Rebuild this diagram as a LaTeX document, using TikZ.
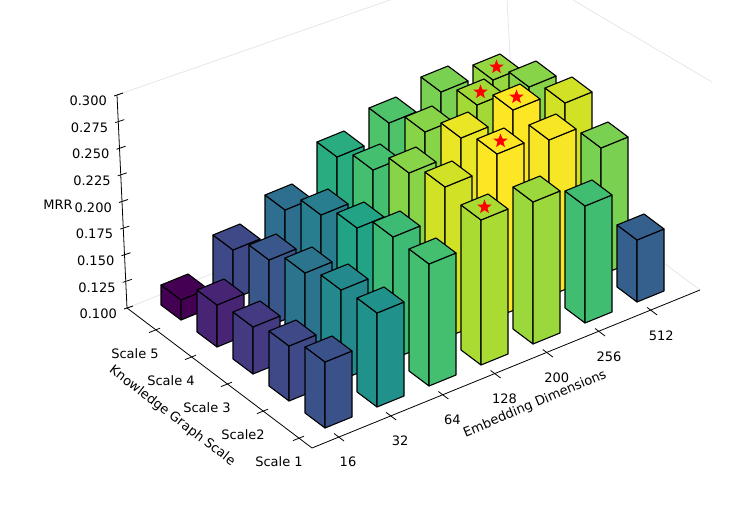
\documentclass[tikz,border=0pt]{standalone}
\usepackage{fontspec}
\setmainfont{DejaVu Sans}
\usetikzlibrary{shapes.geometric}
\definecolor{vir0}{HTML}{440154}
\definecolor{vir1}{HTML}{482475}
\definecolor{vir2}{HTML}{414487}
\definecolor{vir3}{HTML}{355F8D}
\definecolor{vir4}{HTML}{2A788E}
\definecolor{vir5}{HTML}{21918C}
\definecolor{vir6}{HTML}{22A884}
\definecolor{vir7}{HTML}{44BF70}
\definecolor{vir8}{HTML}{7AD151}
\definecolor{vir9}{HTML}{BDDF26}
\definecolor{vir10}{HTML}{FDE725}
\definecolor{vir11}{HTML}{FDE725}
\definecolor{pane}{HTML}{E6E6E6}
\tikzset{
  barface/.style={fill=barc, draw=black, line width=1.1pt, line join=round},
  panel/.style={draw=pane, line width=0.8pt},
  axisline/.style={draw=black, line width=0.8pt},
  tick/.style={draw=black, line width=0.8pt},
  lab/.style={font=\fontsize{13}{15}\selectfont, inner sep=0pt},
  beststar/.style={star, star points=5, star point ratio=2.4, fill=red, draw=none, minimum size=15pt, inner sep=0pt}
}
\begin{document}
\begin{tikzpicture}[x=1pt,y=-1pt]
\useasboundingbox (0,0) rectangle (741,518);
% faint panes
\draw[panel] (127,308) -- (515,152) -- (700,290);
\draw[panel] (515,152) -- (505,-40);
\draw[panel] (117,95) -- (505,-40) -- (712,82);
% axes
\draw[axisline] (127,308) -- (312,448) -- (700,290);
\draw[axisline] (127,308) -- (117,95);
% z ticks and labels
\foreach \k/\t in {0/0.100,1/0.125,2/0.150,3/0.175,4/0.200,5/0.225,6/0.250,7/0.275,8/0.300}{
  \pgfmathsetmacro\zx{127-10*\k/8}
  \pgfmathsetmacro\zy{308-213*\k/8}
  \draw[tick] (\zx-3,\zy+1) -- (\zx+6,\zy-2);
  \node[lab, anchor=east] (z\k) at (\zx-10,\zy+6) {\t};
}
\node[lab] (mrr) at (58,205) {MRR};
% scale ticks
\foreach \j/\t in {0/Scale 1,1/Scale2,2/Scale 3,3/Scale 4,4/Scale 5}{
  \pgfmathsetmacro\sx{297-36*\j}
  \pgfmathsetmacro\sy{439-27*\j}
  \draw[tick] (\sx-4,\sy+1.6) -- (\sx+7,\sy-2.8);
  \node[lab] (s\j) at (\sx-18,\sy+23) {\t};
}
\node[lab, rotate=-37.5] (kgs) at (172,416) {Knowledge Graph Scale};
% dim ticks
\foreach \i/\t in {0/16,1/32,2/64,3/128,4/200,5/256,6/512}{
  \pgfmathsetmacro\dx{340+52.2*\i}
  \pgfmathsetmacro\dy{438-21*\i}
  \draw[tick] (\dx+4,\dy+3) -- (\dx-6,\dy-4.5);
  \node[lab] (d\i) at (\dx+8,\dy+24) {\t};
}
\node[lab, rotate=22.9] (emb) at (535,404) {Embedding Dimensions};
% bars (back to front): i/j/height/star/colour position
\foreach \i/\j/\h/\s/\c in {
  6/4/114/1/0.84,
  6/3/134/0/0.82, 5/4/123/0/0.80,
  6/2/145/0/0.93, 5/3/137/1/0.86, 4/4/113/0/0.72,
  6/1/127/0/0.80, 5/2/159/1/1.0, 4/3/131/0/0.82, 3/4/100/0/0.62,
  6/0/62/0/0.30, 5/1/156/0/0.99, 4/2/152/0/0.97, 3/3/114/0/0.70, 2/4/68/0/0.36,
  5/0/117/0/0.69, 4/1/163/1/1.0, 3/2/138/0/0.82, 2/3/90/0/0.42, 1/4/49/0/0.22,
  4/0/142/0/0.85, 3/1/151/0/0.93, 2/2/104/0/0.58, 1/3/66/0/0.27, 0/4/20/0/0.0,
  3/0/145/1/0.87, 2/1/122/0/0.68, 1/2/80/0/0.38, 0/3/42/0/0.10,
  2/0/122/0/0.70, 1/1/90/0/0.47, 0/2/47/0/0.17,
  1/0/94/0/0.50, 0/1/55/0/0.22,
  0/0/66/0/0.25}{
  \pgfmathsetmacro\fx{325+52*\i-36*\j}
  \pgfmathsetmacro\fy{428-21*\i-27*\j}
  \pgfmathsetmacro\ty{\fy-\h}
  \pgfmathsetmacro\tt{min(9.999,max(0,\c*10))}
  \pgfmathtruncatemacro\kk{floor(\tt)}
  \pgfmathtruncatemacro\kn{\kk+1}
  \pgfmathtruncatemacro\pp{round(100-(\tt-\kk)*100)}
  \colorlet{barc}{vir\kk!\pp!vir\kn}
  \filldraw[barface] (\fx,\fy) -- ++(-20,-15) -- ++(0,-\h) -- ++(20,15) -- cycle;
  \filldraw[barface] (\fx,\fy) -- ++(27,-11) -- ++(0,-\h) -- ++(-27,11) -- cycle;
  \filldraw[barface] (\fx,\ty) -- ++(27,-11) -- ++(-20,-15) -- ++(-27,11) -- cycle;
  \ifnum\s=1
    \node[beststar] (st\i\j) at (\fx+3.5,\ty-13) {};
  \fi
}
\end{tikzpicture}
\end{document}
